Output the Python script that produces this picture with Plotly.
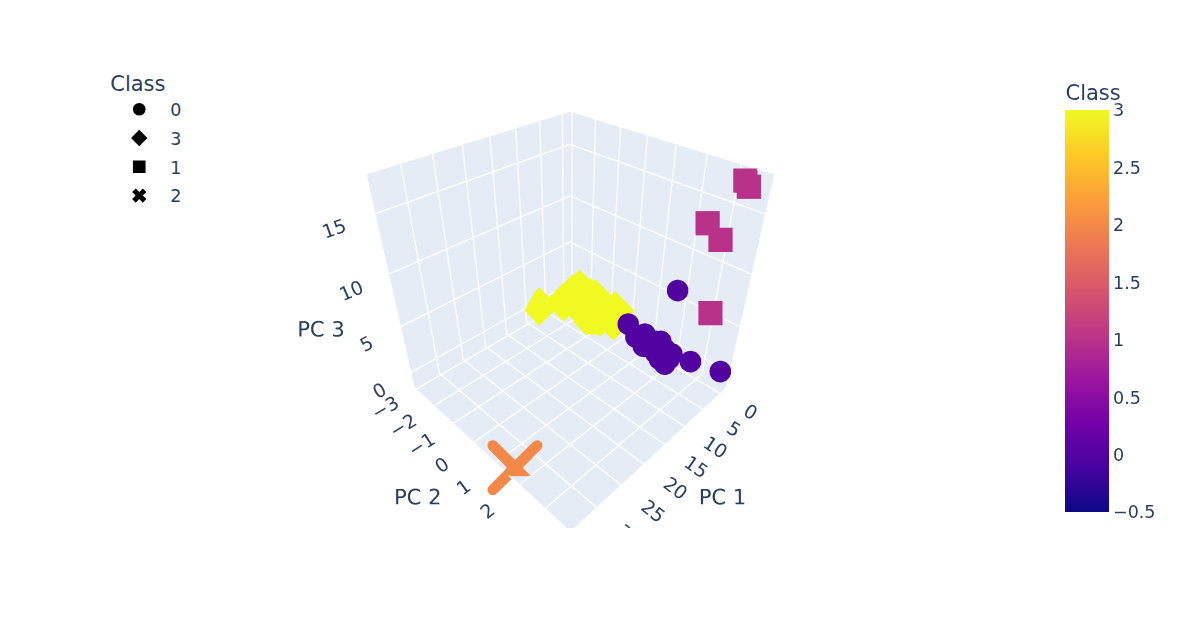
import plotly.graph_objects as go

pc1_0 = [0.30, 2.2, 0.41, 0.72, 1.98, 1.14, 1.35, 3.88, 4.25, 2.41, 2.09, 1.51, 0.09, 4.3, 1.6, 2.9, 3.2, 0.9, 2.6]
pc2_0 = [0.13, 0.77, 0.88, 1.35, 1.32, 1.82, 2.13, 2.0, 2.26, 1.59, 0.93, 2.85, 3.76, 2.37, 1.05, 1.2, 1.75, 1.6, 2.2]
pc3_0 = [0.15, 0.15, 0.15, 0.15, 0.15, 0.15, 0.15, 0.15, 0.15, 0.15, 0.15, 0.56, 0.56, 8.05, 0.5, 0.0, 0.2, 0.6, 0.1]

pc1_3 = [8.08, 3.88, 2.62, 2.41, 2.88, 1.56, 2.72, 1.67, 0.93, 0.83, 3.25]
pc2_3 = [-2.8, -2.38, -2.15, -1.84, -1.23, -1.22, -1.13, -0.94, -0.39, -0.47, -1.49]
pc3_3 = [0.15, 0.15, 1.18, 2.1, 2.1, 1.59, -0.815, -0.26, 1.18, -0.26, 0.15]

pc1_1 = [-0.22, 1.14, 1.14, 0.09, 3.14]
pc2_1 = [3.33, 3.58, 2.63, 2.98, 3.38]
pc3_1 = [17.28, 17.28, 13.59, 12.36, 7.02]

pc1_2 = [33.95]
pc2_2 = [1.6]
pc3_2 = [-1.29]

class_names = ["0", "3", "1", "2"]
symbols = ["circle", "diamond", "square", "x"]
class_values = [0, 3, 1, 2]
xs = [pc1_0, pc1_3, pc1_1, pc1_2]
ys = [pc2_0, pc2_3, pc2_1, pc2_2]
zs = [pc3_0, pc3_3, pc3_1, pc3_2]

fig = go.Figure()
for name, sym, x, y, z, c in zip(class_names, symbols, xs, ys, zs, class_values):
    fig.add_trace(go.Scatter3d(
        x=x, y=y, z=z, mode="markers", name=name, legendgroup=name, showlegend=True,
        marker=dict(symbol=sym, size=12.6, color=[c] * len(x), coloraxis="coloraxis", opacity=1),
    ))

tick_font = dict(size=15)
title_font = dict(size=21)
axis_common = dict(tickfont=tick_font, gridwidth=3, ticks="outside", ticklen=14,
                   tickcolor="rgba(0,0,0,0)", tickwidth=1)
fig.update_layout(
    template="plotly",
    font=dict(family="DejaVu Sans"),
    scene=dict(
        xaxis=dict(title=dict(text="PC 1", font=title_font), range=[-1.8, 35], dtick=5, **axis_common),
        yaxis=dict(title=dict(text="PC 2", font=title_font), range=[-3.1, 3.9], dtick=1, **axis_common),
        zaxis=dict(title=dict(text="PC 3", font=title_font), range=[-1.8, 17.9], dtick=5, **axis_common),
        domain=dict(x=[0, 1], y=[0, 1]),
        aspectmode="manual",
        aspectratio=dict(x=0.975, y=0.975, z=1.0),
        camera=dict(center=dict(x=0, y=0, z=-0.012)),
    ),
    coloraxis=dict(
        cmin=-0.5, cmax=3, colorscale="Plasma",
        colorbar=dict(
            title=dict(text="Class", font=dict(size=21)),
            thickness=44, thicknessmode="pixels",
            len=431, lenmode="pixels",
            x=1.014, xanchor="left", xpad=0,
            y=0.034, yanchor="bottom", ypad=0,
            tickfont=dict(size=17.5), outlinewidth=0,
        ),
    ),
    legend=dict(
        title=dict(text="Class", font=dict(size=21)),
        font=dict(size=17.5),
        tracegroupgap=3, itemwidth=52,
        x=0.021, y=1.0085, xanchor="left", yanchor="top",
    ),
    margin=dict(l=80, r=122, t=60, b=91, autoexpand=False),
)
fig.write_html("out.html")
